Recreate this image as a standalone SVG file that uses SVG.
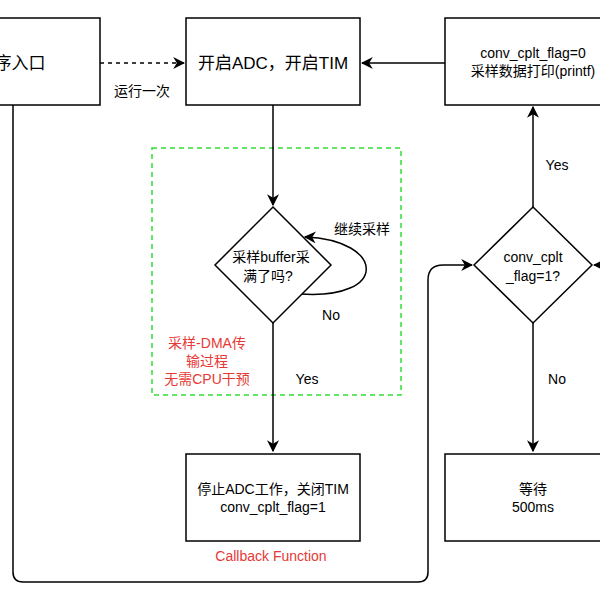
<svg xmlns="http://www.w3.org/2000/svg" width="600" height="600" viewBox="0 0 600 600">
<style>
.n{fill:#fff;stroke:#000;stroke-width:1.5}
.t{font-family:"Liberation Sans","Noto Sans CJK SC",sans-serif;font-size:14px;fill:#000;text-anchor:middle}
.r{fill:#e53935}
.c{fill:none;stroke:#000;stroke-width:1.5}
</style>
<defs><marker id="a" viewBox="0 0 10 10" refX="9" refY="5" markerWidth="8" markerHeight="8" orient="auto"><path d="M0,0 L10,5 L0,10 L3,5z" fill="#000"/></marker></defs>
<rect x="152" y="148" width="249" height="247" fill="none" stroke="#33dd33" stroke-width="1.5" stroke-dasharray="5,4"/>
<g id="connectors">
<path class="c" d="M100,63 H184" stroke-dasharray="4,4" marker-end="url(#a)"/>
<path class="c" d="M445,63 H362" marker-end="url(#a)"/>
<path class="c" d="M273,105 V205" marker-end="url(#a)"/>
<path class="c" d="M273,323 V451" marker-end="url(#a)"/>
<path class="c" d="M300,294 C390,300 385,240 305,237" marker-end="url(#a)"/>
<path class="c" d="M13,105 V572 Q13,582 23,582 H418 Q428,582 428,572 V280 Q428,265 443,265 H472" marker-end="url(#a)"/>
<path class="c" d="M533,207 V107" marker-end="url(#a)"/>
<path class="c" d="M533,323 V451" marker-end="url(#a)"/>
<path class="c" d="M610,265 H594" marker-end="url(#a)"/>
</g>
<g id="entry"><rect class="n" x="-20" y="18" width="120" height="87"/><text class="t" x="20" y="69" style="font-size:17px">序入口</text></g>
<g id="start"><rect class="n" x="186" y="18" width="174" height="87"/><text class="t" x="273" y="69" style="font-size:17px">开启ADC，开启TIM</text></g>
<g id="print"><rect class="n" x="445" y="18" width="170" height="87"/><text class="t" x="533" y="58">conv_cplt_flag=0</text><text class="t" x="533" y="76">采样数据打印(printf)</text></g>
<g id="d1"><polygon class="n" points="273,207 331,265 273,323 215,265"/><text class="t" x="271" y="262">采样buffer采</text><text class="t" x="268" y="281">满了吗?</text></g>
<g id="d2"><polygon class="n" points="533,207 592,265 533,323 474,265"/><text class="t" x="533" y="262">conv_cplt</text><text class="t" x="533" y="281">_flag=1?</text></g>
<g id="stop"><rect class="n" x="186" y="454" width="174" height="87"/><text class="t" x="273" y="494">停止ADC工作，关闭TIM</text><text class="t" x="273" y="512">conv_cplt_flag=1</text></g>
<g id="wait"><rect class="n" x="445" y="454" width="170" height="87"/><text class="t" x="533" y="494">等待</text><text class="t" x="533" y="512">500ms</text></g>
<g>
<text class="t" x="142" y="96">运行一次</text>
<text class="t" x="362" y="234">继续采样</text>
<text class="t" x="331" y="320">No</text>
<text class="t" x="307" y="384">Yes</text>
<text class="t" x="557" y="170">Yes</text>
<text class="t" x="557" y="384">No</text>
<text class="t r" x="207" y="348">采样-DMA传</text>
<text class="t r" x="207" y="366">输过程</text>
<text class="t r" x="207" y="384">无需CPU干预</text>
<text class="t r" x="271" y="561">Callback Function</text>
</g>
</svg>
